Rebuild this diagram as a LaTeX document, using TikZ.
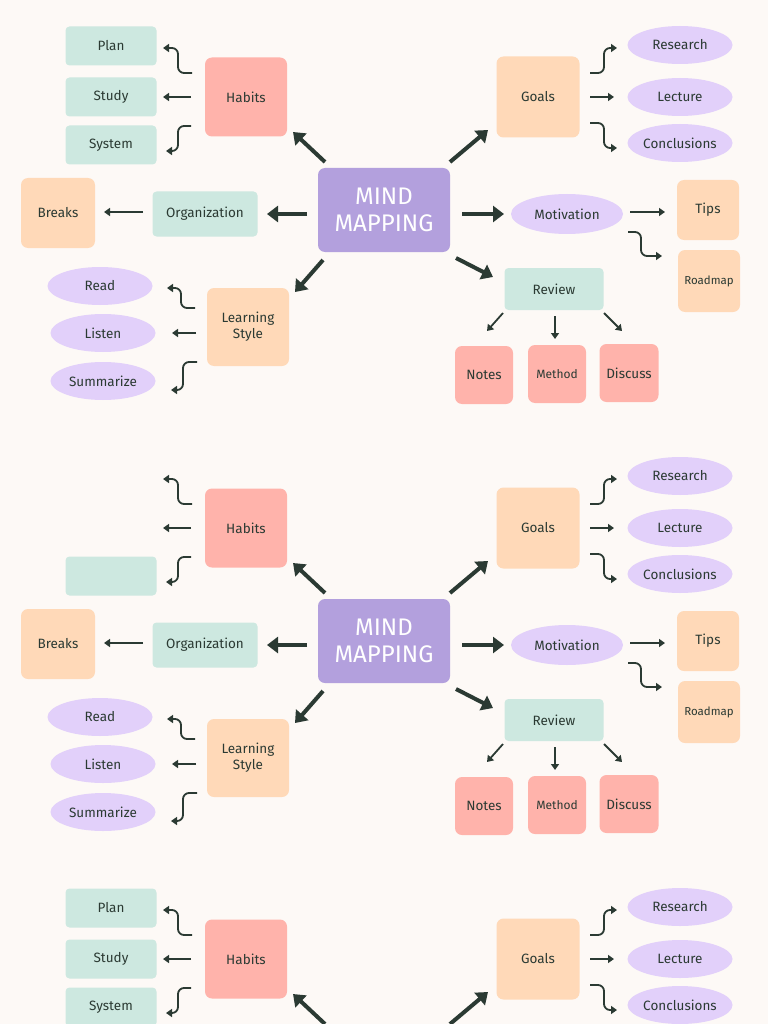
\documentclass[tikz,border=0pt]{standalone}
\usepackage{fontspec}
\setmainfont{Fira Sans}
\usetikzlibrary{arrows.meta,shapes.geometric,positioning}
\definecolor{bg}{HTML}{FDF9F6}
\definecolor{ink}{HTML}{2B3A33}
\definecolor{lilac}{HTML}{B3A0DD}
\definecolor{pinkish}{HTML}{FFB3AB}
\definecolor{mint}{HTML}{CDE8E0}
\definecolor{peach}{HTML}{FFD9B8}
\definecolor{lavender}{HTML}{E2D0FA}
\tikzset{
    x=1pt, y=-1pt,
    every node/.style = { text=ink, font=\fontsize{13.5}{16}\selectfont, align=center },
    blob/.style = { rounded corners=7pt, inner sep=0pt },
    central/.style = { blob, fill=lilac, minimum width=132, minimum height=84,
        text=white, font=\fontsize{24}{27}\selectfont },
    pinkbox/.style = { blob, fill=pinkish },
    mintbox/.style = { blob, fill=mint, rounded corners=4pt },
    peachbox/.style = { blob, fill=peach },
    oval/.style = { ellipse, fill=lavender, minimum width=105, minimum height=38, inner sep=0pt },
    bigarrow/.style = { draw=ink, line width=4pt, -{Triangle[length=11pt,width=16pt]} },
    arrow/.style = { draw=ink, line width=1.8pt, rounded corners=6pt,
        -{Triangle[length=6pt,width=8pt]} }
}
% one copy of the map, shifted down by #1
\newcommand{\mindmap}[2]{
    \begin{scope}[yshift=#1, name prefix=#2-]
        \node[central] (mm) at (384,210) {MIND\\MAPPING};
        \node[pinkbox, minimum width=82, minimum height=79] (hab) at (246,97) {Habits};
        \node[mintbox, minimum width=105, minimum height=45] (org) at (205,214) {Organization};
        \node[peachbox, minimum width=74, minimum height=70] (brk) at (58,213) {Breaks};
        \node[peachbox, minimum width=82, minimum height=78] (lrn) at (248,327) {Learning\\Style};
        \node[oval] (read) at (100,286) {Read};
        \node[oval] (lis) at (103,333) {Listen};
        \node[oval] (sum) at (103,381) {Summarize};
        \node[peachbox, minimum width=83, minimum height=81] (goal) at (538,97) {Goals};
        \node[oval] (res) at (680,45) {Research};
        \node[oval] (lec) at (680,97) {Lecture};
        \node[oval] (con) at (680,143) {Conclusions};
        \node[oval, minimum width=112, minimum height=40] (mot) at (567,214) {Motivation};
        \node[peachbox, minimum width=62, minimum height=60] (tips) at (708,210) {Tips};
        \node[peachbox, minimum width=62, minimum height=62, font=\fontsize{11.5}{13}\selectfont] (road) at (709,281) {Roadmap};
        \node[mintbox, minimum width=99, minimum height=42] (rev) at (554,289) {Review};
        \node[pinkbox, minimum width=58, minimum height=58] (notes) at (484,375) {Notes};
        \node[pinkbox, minimum width=58, minimum height=58, font=\fontsize{12}{14}\selectfont] (meth) at (557,374) {Method};
        \node[pinkbox, minimum width=59, minimum height=58] (disc) at (629,373) {Discuss};

        % main branches
        \draw[bigarrow] (325,162) -- (293,132);
        \draw[bigarrow] (307,214) -- (267,214);
        \draw[bigarrow] (323,260) -- (295,292);
        \draw[bigarrow] (450,162) -- (488,130);
        \draw[bigarrow] (462,214) -- (504,214);
        \draw[bigarrow] (456,258) -- (493,277);

        % habits
        \draw[arrow] (192,73) -- (178,73) -- (178,48) -- (163,48);
        \draw[arrow] (191,97) -- (163,97);
        \draw[arrow] (191,126) -- (178,126) -- (178,151) -- (166,151);
        \draw[arrow] (143,212) -- (104,212);
        % learning style
        \draw[arrow] (195,308) -- (181,308) -- (181,288) -- (167,288);
        \draw[arrow] (196,333) -- (172,333);
        \draw[arrow] (197,362) -- (183,362) -- (183,390) -- (171,390);
        % goals
        \draw[arrow] (590,73) -- (604,73) -- (604,48) -- (617,48);
        \draw[arrow] (590,97) -- (614,97);
        \draw[arrow] (590,123) -- (604,123) -- (604,148) -- (617,148);
        % motivation
        \draw[arrow] (630,212) -- (665,212);
        \draw[arrow] (628,232) -- (641,232) -- (641,256) -- (662,256);
        % review
        \draw[arrow] (503,313) -- (487,331);
        \draw[arrow] (555,316) -- (555,339);
        \draw[arrow] (604,313) -- (622,331);
    \end{scope}
}
\begin{document}
\begin{tikzpicture}
    \fill[bg] (0,0) rectangle (768,1024);
    \useasboundingbox (0,0) rectangle (768,1024);
    \clip (0,0) rectangle (768,1024);

    \mindmap{0pt}{a}
    \node[mintbox, minimum width=91, minimum height=39] (a-plan) at (111,46) {Plan};
    \node[mintbox, minimum width=91, minimum height=39] (a-study) at (111,97) {Study};
    \node[mintbox, minimum width=91, minimum height=39] (a-sys) at (111,145) {System};

    \mindmap{-431pt}{b}
    \node[mintbox, minimum width=91, minimum height=39] (b-sys) at (111,576) {};

    \mindmap{-862pt}{c}
    \node[mintbox, minimum width=91, minimum height=39] (c-plan) at (111,908) {Plan};
    \node[mintbox, minimum width=91, minimum height=39] (c-study) at (111,959) {Study};
    \node[mintbox, minimum width=91, minimum height=39] (c-sys) at (111,1007) {System};
\end{tikzpicture}
\end{document}
